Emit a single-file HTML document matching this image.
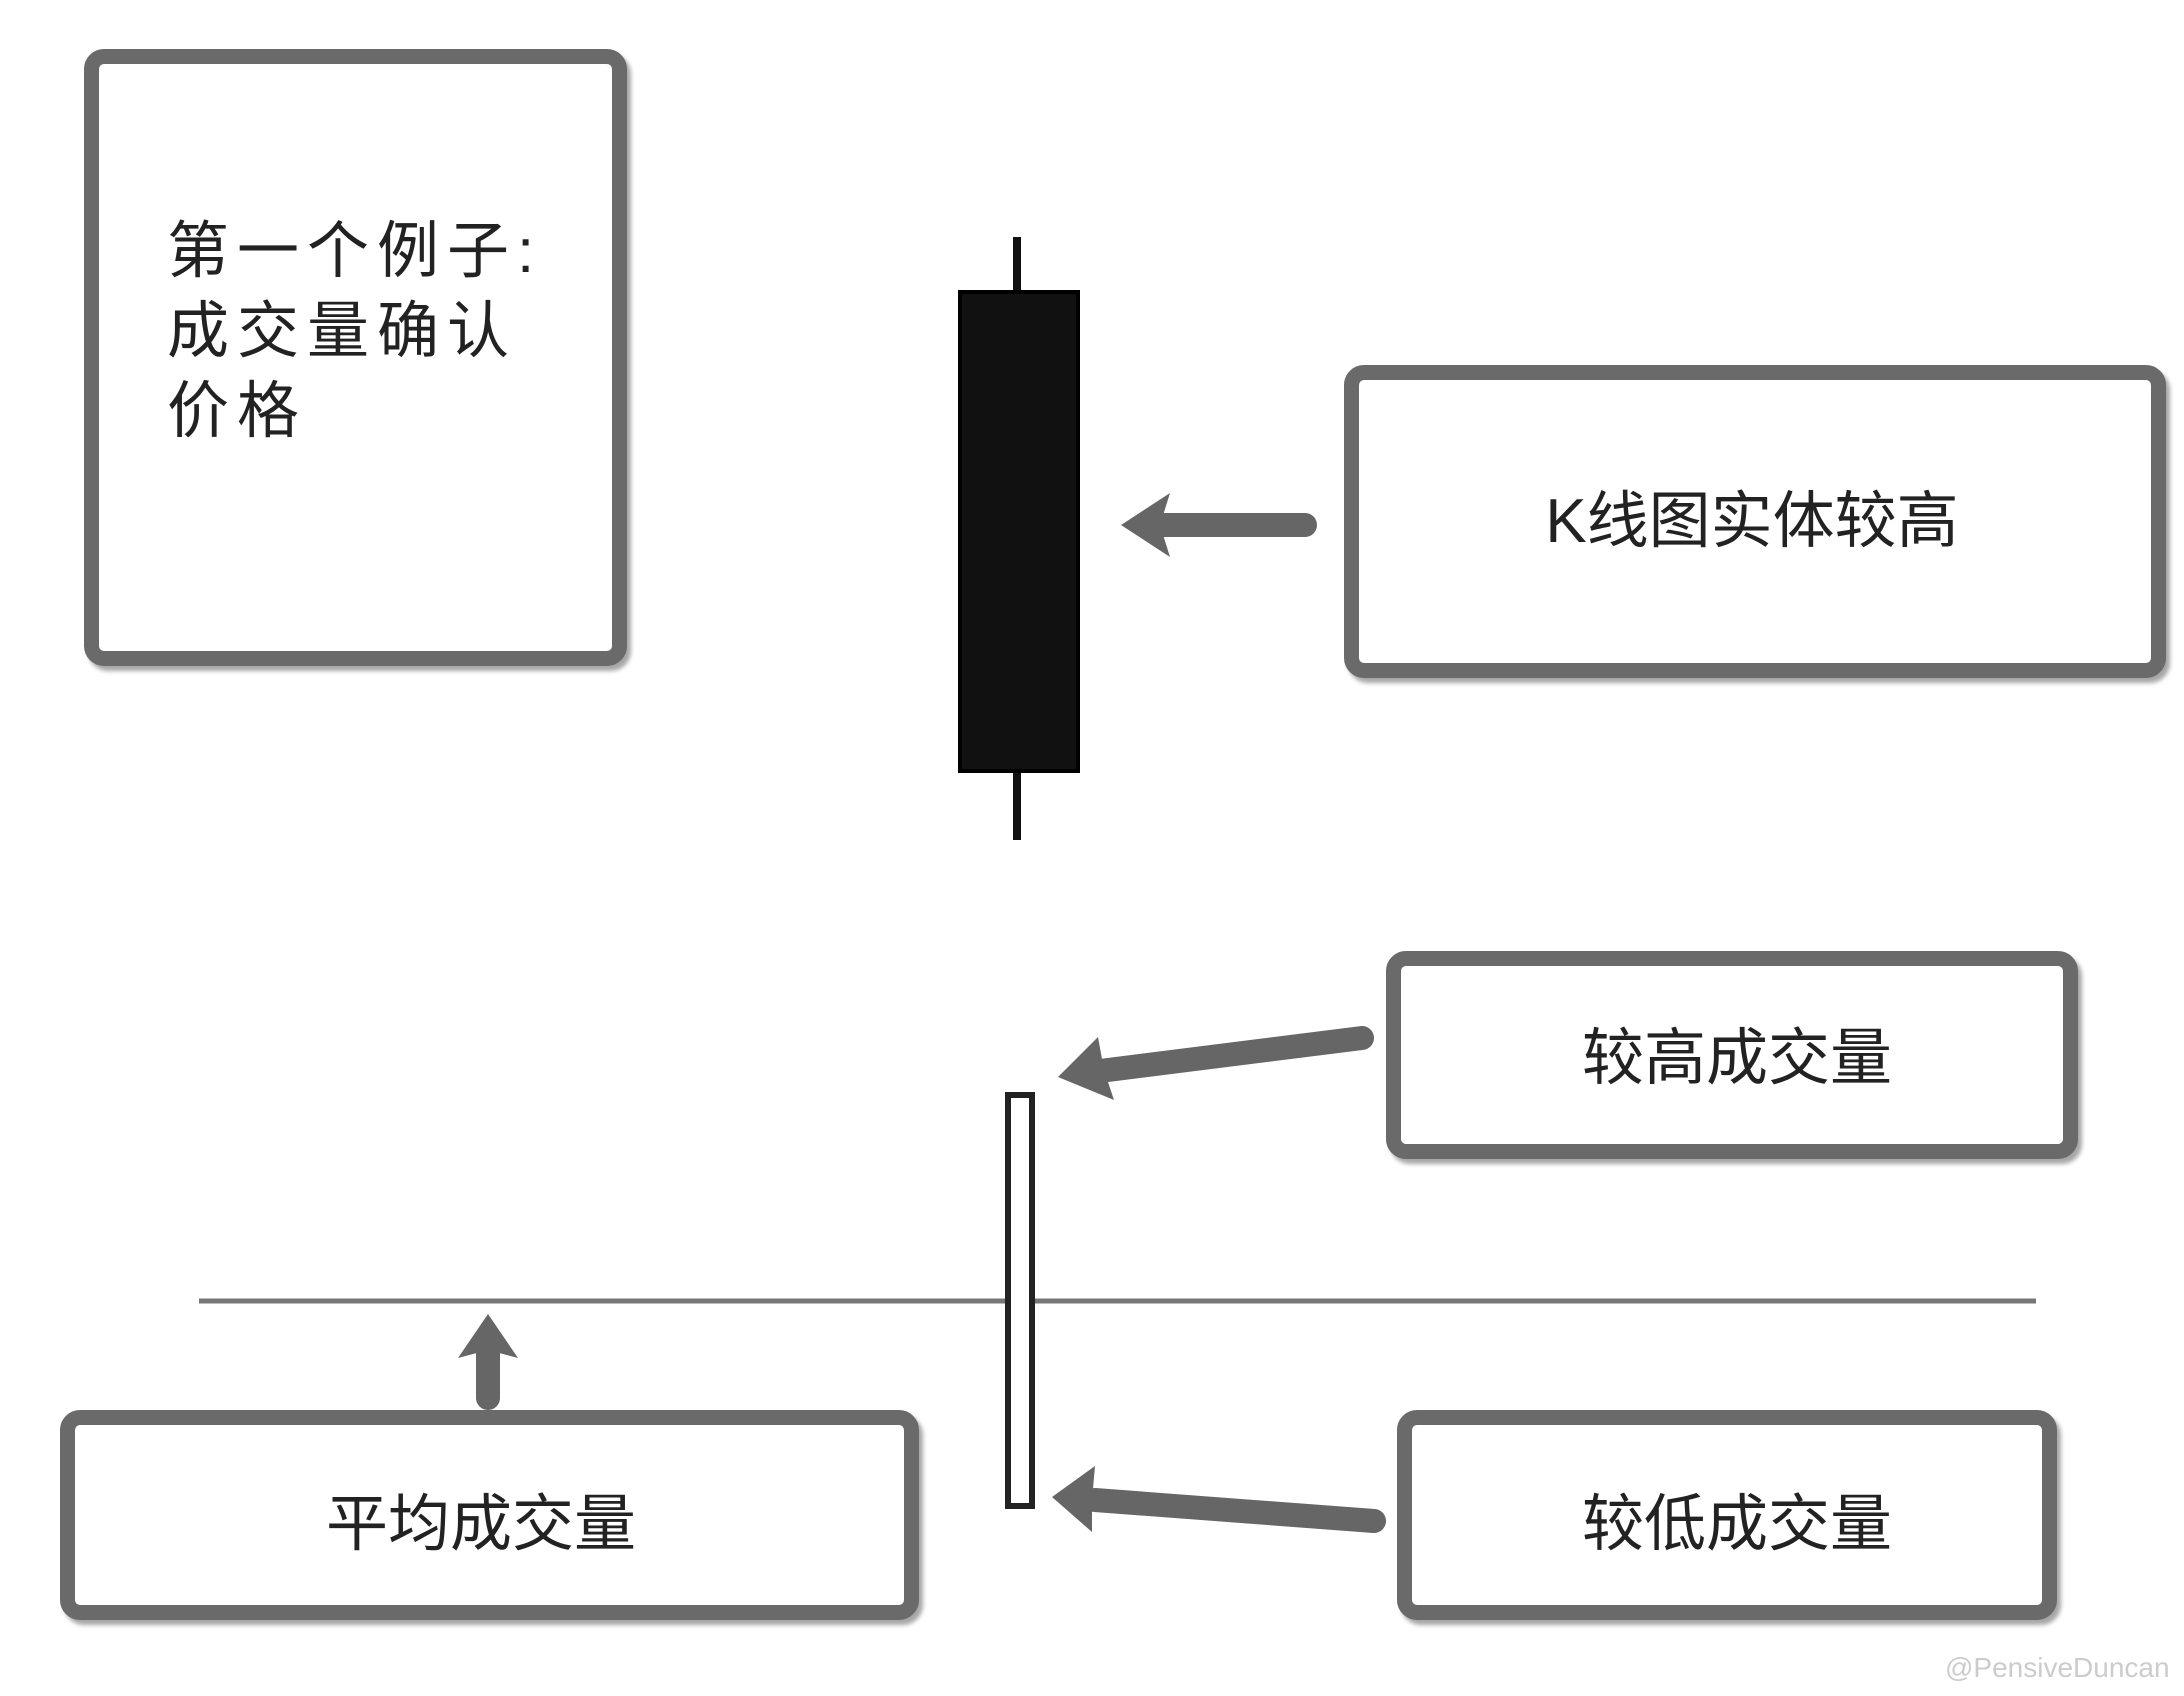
<!DOCTYPE html>
<html><head><meta charset="utf-8"><style>
html,body{margin:0;padding:0;background:#fff;}
body{width:2184px;height:1696px;position:relative;overflow:hidden;font-family:"Liberation Sans","Noto Sans CJK SC",sans-serif;}
.box{position:absolute;box-sizing:border-box;border:15px solid #6a6a6a;border-radius:20px;background:#fff;box-shadow:4px 5px 4px rgba(0,0,0,0.35);}
.t{position:absolute;color:#222;font-size:62px;white-space:nowrap;transform:translate(-50%,-50%);}
</style></head><body>
<div class="box" style="left:84px;top:49px;width:543px;height:617px;"></div>
<div style="position:absolute;left:167px;top:212px;font-size:62px;line-height:80px;color:#222;letter-spacing:8px;">第一个例子:<br>成交量确认<br>价格</div>

<div class="box" style="left:1344px;top:365px;width:822px;height:313px;"></div>
<div class="t" style="left:1752px;top:515px;">K线图实体较高</div>
<div class="box" style="left:1386px;top:951px;width:692px;height:208px;"></div>
<div class="t" style="left:1737px;top:1052px;">较高成交量</div>
<div class="box" style="left:60px;top:1410px;width:859px;height:210px;"></div>
<div class="t" style="left:481px;top:1518px;">平均成交量</div>
<div class="box" style="left:1397px;top:1410px;width:660px;height:210px;"></div>
<div class="t" style="left:1737px;top:1518px;">较低成交量</div>

<svg width="2184" height="1696" style="position:absolute;left:0;top:0">
<line x1="1017" y1="237" x2="1017" y2="840" stroke="#111" stroke-width="8"/>
<rect x="960" y="292" width="118" height="479" fill="#111" stroke="#000" stroke-width="4"/>
<line x1="199" y1="1301" x2="2036" y2="1301" stroke="#777" stroke-width="5"/>
<rect x="1008" y="1095" width="24" height="411" fill="#fff" stroke="#222" stroke-width="6"/>
<g stroke="#666" stroke-width="24" stroke-linecap="round" fill="#666">
<line x1="1305" y1="525" x2="1160" y2="525"/>
<line x1="1362" y1="1038" x2="1100" y2="1071"/>
<line x1="1374" y1="1521" x2="1095" y2="1500"/>
<line x1="488" y1="1398" x2="488" y2="1350"/>
</g>
<g fill="#666">
<polygon points="1121,525 1170,493 1160,525 1170,557"/>
<polygon points="1058,1077 1098,1037 1104,1070 1114,1100"/>
<polygon points="1052,1497 1095,1466 1092,1500 1092,1532"/>
<polygon points="488,1314 518,1358 488,1350 458,1358"/>
</g>
</svg>
<div style="position:absolute;left:1945px;top:1652px;font-size:28px;color:#ccc;">@PensiveDuncan</div>
</body></html>
